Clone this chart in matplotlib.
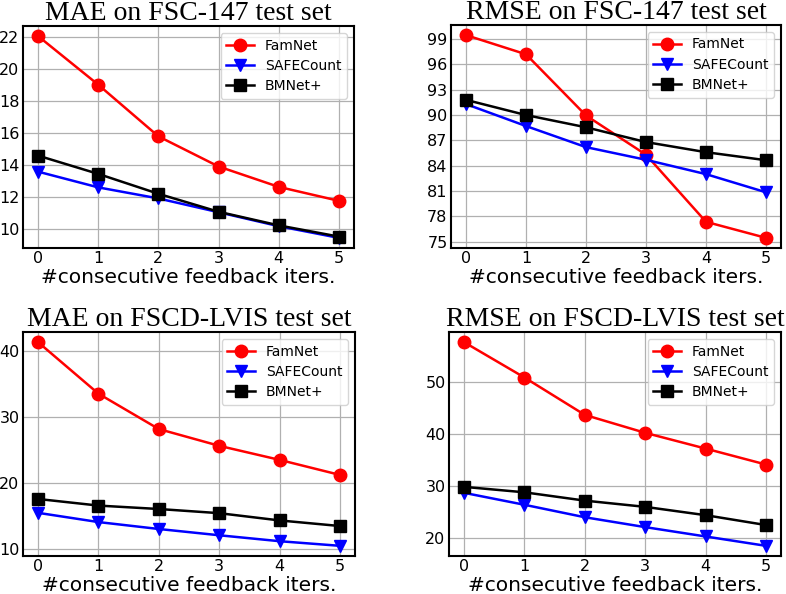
import matplotlib
matplotlib.use("Agg")
import matplotlib.pyplot as plt

iters = [0, 1, 2, 3, 4, 5]
methods = ["FamNet", "SAFECount", "BMNet+"]

mae_fsc_famnet = [22.05, 19.02, 15.8, 13.92, 12.65, 11.78]
mae_fsc_safecount = [13.6, 12.62, 11.93, 11.07, 10.2, 9.47]
mae_fsc_bmnet = [14.6, 13.46, 12.22, 11.1, 10.25, 9.55]

rmse_fsc_famnet = [99.47, 97.2, 89.95, 85.3, 77.35, 75.45]
rmse_fsc_safecount = [91.3, 88.7, 86.2, 84.7, 83.0, 80.85]
rmse_fsc_bmnet = [91.8, 90.0, 88.55, 86.8, 85.6, 84.65]

mae_lvis_famnet = [41.37, 33.56, 28.2, 25.66, 23.53, 21.25]
mae_lvis_safecount = [15.5, 14.1, 13.05, 12.1, 11.2, 10.5]
mae_lvis_bmnet = [17.6, 16.6, 16.08, 15.45, 14.35, 13.5]

rmse_lvis_famnet = [57.7, 50.9, 43.7, 40.25, 37.22, 34.15]
rmse_lvis_safecount = [28.7, 26.4, 24.0, 22.1, 20.3, 18.5]
rmse_lvis_bmnet = [29.85, 28.8, 27.2, 26.0, 24.4, 22.5]

titles = ["MAE on FSC-147 test set", "RMSE on FSC-147 test set",
          "MAE on FSCD-LVIS test set", "RMSE on FSCD-LVIS test set"]
panels = [
    (mae_fsc_famnet, mae_fsc_safecount, mae_fsc_bmnet),
    (rmse_fsc_famnet, rmse_fsc_safecount, rmse_fsc_bmnet),
    (mae_lvis_famnet, mae_lvis_safecount, mae_lvis_bmnet),
    (rmse_lvis_famnet, rmse_lvis_safecount, rmse_lvis_bmnet),
]
yticks = [
    [10, 12, 14, 16, 18, 20, 22],
    [75, 78, 81, 84, 87, 90, 93, 96, 99],
    [10, 20, 30, 40],
    [20, 30, 40, 50],
]

W, H = 786, 594
fig = plt.figure(figsize=(W / 100, H / 100), dpi=100)

# axes boxes in pixels: left, top, right, bottom
boxes = [
    (23, 26, 354, 248),
    (451, 25, 781, 248),
    (23, 332, 355, 556),
    (449, 332, 781, 556),
]

colors = ["red", "blue", "black"]
markers = ["o", "v", "s"]

for (l, t, r, b), title, data, yt in zip(boxes, titles, panels, yticks):
    ax = fig.add_axes([l / W, (H - b) / H, (r - l) / W, (b - t) / H])
    for vals, c, m, name in zip(data, colors, markers, methods):
        ax.plot(iters, vals, color=c, marker=m, markersize=9, linewidth=1.8, label=name)
    ax.set_xticks(iters)
    ax.set_yticks(yt)
    ax.grid(True, color="#b0b0b0", linewidth=0.9)
    ax.set_axisbelow(True)
    ax.tick_params(length=0, pad=2.5, labelsize=11.5)
    for s in ax.spines.values():
        s.set_linewidth(1.5)
        s.set_color("black")
    ax.set_title(title, family="Liberation Serif", fontsize=20, pad=3)
    ax.set_xlabel("#consecutive feedback iters.", fontsize=14.5, labelpad=1)
    ax.legend(loc="upper right", fontsize=10, numpoints=1, labelspacing=0.45)

fig.savefig("out.png", dpi=100)
